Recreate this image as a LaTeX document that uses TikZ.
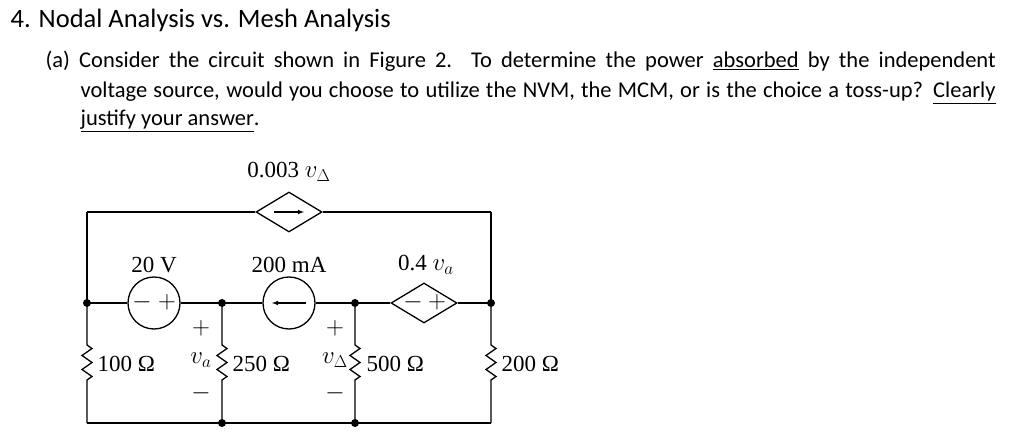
\documentclass[tikz,border=0pt]{standalone}
\usepackage{fontspec}
\setmainfont{Liberation Serif}
\newfontfamily\calfont{Carlito}
\usetikzlibrary{shapes.geometric,calc}
\begin{document}
\begin{tikzpicture}[x=1pt,y=-1pt,line width=1.3pt,
  dot/.style={circle,fill,inner sep=0pt,minimum size=8pt},
  src/.style={circle,draw,minimum size=52pt,inner sep=0pt},
  dsrc/.style={diamond,draw,minimum width=66pt,minimum height=40pt,inner sep=0pt,aspect=1.6},
  lab/.style={font=\fontsize{23}{25}\selectfont,inner sep=0pt},
  txt/.style={font=\calfont\fontsize{22.5}{26}\selectfont,anchor=base west,inner sep=0pt}]
\useasboundingbox (0,0) rectangle (1014,443);
\node[txt,font=\calfont\fontsize{26.5}{30}\selectfont] (title) at (10,28) {4. Nodal Analysis vs. Mesh Analysis};
\node[txt] (l1) at (45,68) {\makebox[950pt][s]{(a) Consider the circuit shown in Figure 2. To determine the power \underline{absorbed} by the independent}};
\node[txt] (l2) at (80,98) {\makebox[915pt][s]{voltage source, would you choose to utilize the NVM, the MCM, or is the choice a toss-up? \underline{Clearly}}};
\node[txt] (l3) at (80,126) {\underline{justify your answer}.};
% nodes
\coordinate (A) at (87,303); \coordinate (B) at (222,303); \coordinate (C) at (355,303); \coordinate (D) at (491,303);
\coordinate (TL) at (87,212); \coordinate (TR) at (491,212);
\coordinate (BL) at (87,423); \coordinate (BB) at (222,423); \coordinate (BC) at (355,423); \coordinate (BR) at (491,423);
\node[src] (vs) at (154,303) {};
\node[src] (cs) at (289,303) {};
\node[dsrc] (dv) at (424,303) {};
\node[dsrc] (dc) at (289,212) {};
\draw (TL) -- (dc) -- (TR);
\draw (A) -- (vs) -- (B) -- (cs) -- (C) -- (dv) -- (D);
\draw (TL) -- (A); \draw (TR) -- (D); \draw (BL) -- (BR);
\foreach \p/\q in {A/BL,B/BB,C/BC,D/BR}{
  \draw (\p) -- ($(\p)+(0,42)$) -- ++(5,3.5) -- ++(-10,7) -- ++(10,7) -- ++(-10,7) -- ++(10,7) -- ++(-5,3.5) -- (\q);
}
\foreach \n in {A,B,C,D,BB,BC} \node[dot] at (\n) {};
% source marks
\node[lab] at ($(vs)+(-12,-1)$) {$-$};
\node[lab] at ($(vs)+(13,-1)$) {$+$};
\node[lab] at ($(dv)+(-11,-1)$) {$-$};
\node[lab] at ($(dv)+(13,-1)$) {$+$};
\draw[-latex,line width=1.1pt] ($(cs)+(17,0)$) -- ($(cs)+(-17,0)$);
\draw[-latex,line width=1.1pt] ($(dc)+(-15,0)$) -- ($(dc)+(15,0)$);
% labels
\node[lab] (l20) at (154,265) {20 V};
\node[lab] (l200) at (289,265) {200 mA};
\node[lab] (l04) at (426,265) {0.4 $v_a$};
\node[lab] (l003) at (289,172) {0.003 $v_\Delta$};
\node[lab,anchor=west] at (97,364) {100 Ω};
\node[lab,anchor=west] at (232,364) {250 Ω};
\node[lab,anchor=west] at (366,364) {500 Ω};
\node[lab,anchor=west] at (501,364) {200 Ω};
\node[lab] at (201,328) {$+$};
\node[lab] at (201,360) {$v_a$};
\node[lab] at (201,393) {$-$};
\node[lab] at (335,328) {$+$};
\node[lab] at (335,360) {$v_\Delta$};
\node[lab] at (335,393) {$-$};
\end{tikzpicture}
\end{document}
